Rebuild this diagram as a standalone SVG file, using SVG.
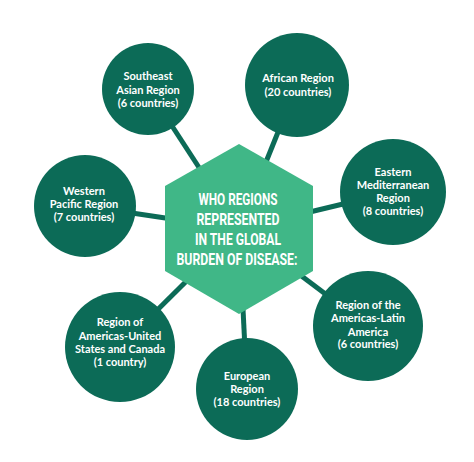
<svg xmlns="http://www.w3.org/2000/svg" width="474" height="462" viewBox="0 0 474 462">
<style>
.node{fill:#0c6b57}
.lbl{font-family:Lato,"Open Sans","Liberation Sans",sans-serif;font-weight:700;font-size:11px;fill:#ffffff;text-anchor:middle}
.hdr{font-family:"Liberation Sans Narrow","Roboto","Liberation Sans",sans-serif;font-weight:700;font-size:16.5px;fill:#ffffff;text-anchor:middle}
.conn{stroke:#0c6b57;stroke-width:5;fill:none}
</style>
<rect width="474" height="462" fill="#ffffff"/>
<g id="connectors">
<line class="conn" x1="239" y1="229" x2="148" y2="89"/>
<line class="conn" x1="239" y1="229" x2="297" y2="85"/>
<line class="conn" x1="239" y1="229" x2="85" y2="206"/>
<line class="conn" x1="239" y1="229" x2="393" y2="192"/>
<line class="conn" x1="239" y1="229" x2="120" y2="347"/>
<line class="conn" x1="239" y1="229" x2="247" y2="389"/>
<line class="conn" x1="239" y1="229" x2="368" y2="326"/>
</g>
<g id="center">
<polygon points="239,144 313,186 313,271 239,314 165,271 165,186" fill="#40b787"/>
<text class="hdr" x="238" y="205" textLength="79" lengthAdjust="spacingAndGlyphs">WHO REGIONS</text>
<text class="hdr" x="238" y="225" textLength="83" lengthAdjust="spacingAndGlyphs">REPRESENTED</text>
<text class="hdr" x="238" y="245" textLength="86" lengthAdjust="spacingAndGlyphs">IN THE GLOBAL</text>
<text class="hdr" x="237" y="265" textLength="121" lengthAdjust="spacingAndGlyphs">BURDEN OF DISEASE:</text>
</g>
<g id="southeast-asian">
<circle class="node" cx="148" cy="89" r="46"/>
<text class="lbl" x="148" y="80">Southeast</text>
<text class="lbl" x="148" y="94">Asian Region</text>
<text class="lbl" x="148" y="107">(6 countries)</text>
</g>
<g id="african">
<circle class="node" cx="297" cy="85" r="52"/>
<text class="lbl" x="298" y="82">African Region</text>
<text class="lbl" x="298" y="96">(20 countries)</text>
</g>
<g id="western-pacific">
<circle class="node" cx="85" cy="206" r="51"/>
<text class="lbl" x="84" y="195">Western</text>
<text class="lbl" x="84" y="208">Pacific Region</text>
<text class="lbl" x="84" y="221">(7 countries)</text>
</g>
<g id="eastern-mediterranean">
<circle class="node" cx="393" cy="192" r="53"/>
<text class="lbl" x="393" y="176">Eastern</text>
<text class="lbl" x="393" y="189">Mediterranean</text>
<text class="lbl" x="393" y="202">Region</text>
<text class="lbl" x="393" y="215">(8 countries)</text>
</g>
<g id="americas-us-canada">
<circle class="node" cx="120" cy="347" r="55"/>
<text class="lbl" x="120" y="326">Region of</text>
<text class="lbl" x="120" y="340">Americas-United</text>
<text class="lbl" x="120" y="353">States and Canada</text>
<text class="lbl" x="120" y="366">(1 country)</text>
</g>
<g id="european">
<circle class="node" cx="247" cy="389" r="51"/>
<text class="lbl" x="247" y="380">European</text>
<text class="lbl" x="247" y="393">Region</text>
<text class="lbl" x="247" y="406">(18 countries)</text>
</g>
<g id="americas-latin">
<circle class="node" cx="368" cy="326" r="55"/>
<text class="lbl" x="368" y="309">Region of the</text>
<text class="lbl" x="368" y="322">Americas-Latin</text>
<text class="lbl" x="368" y="336">America</text>
<text class="lbl" x="368" y="348">(6 countries)</text>
</g>
</svg>
